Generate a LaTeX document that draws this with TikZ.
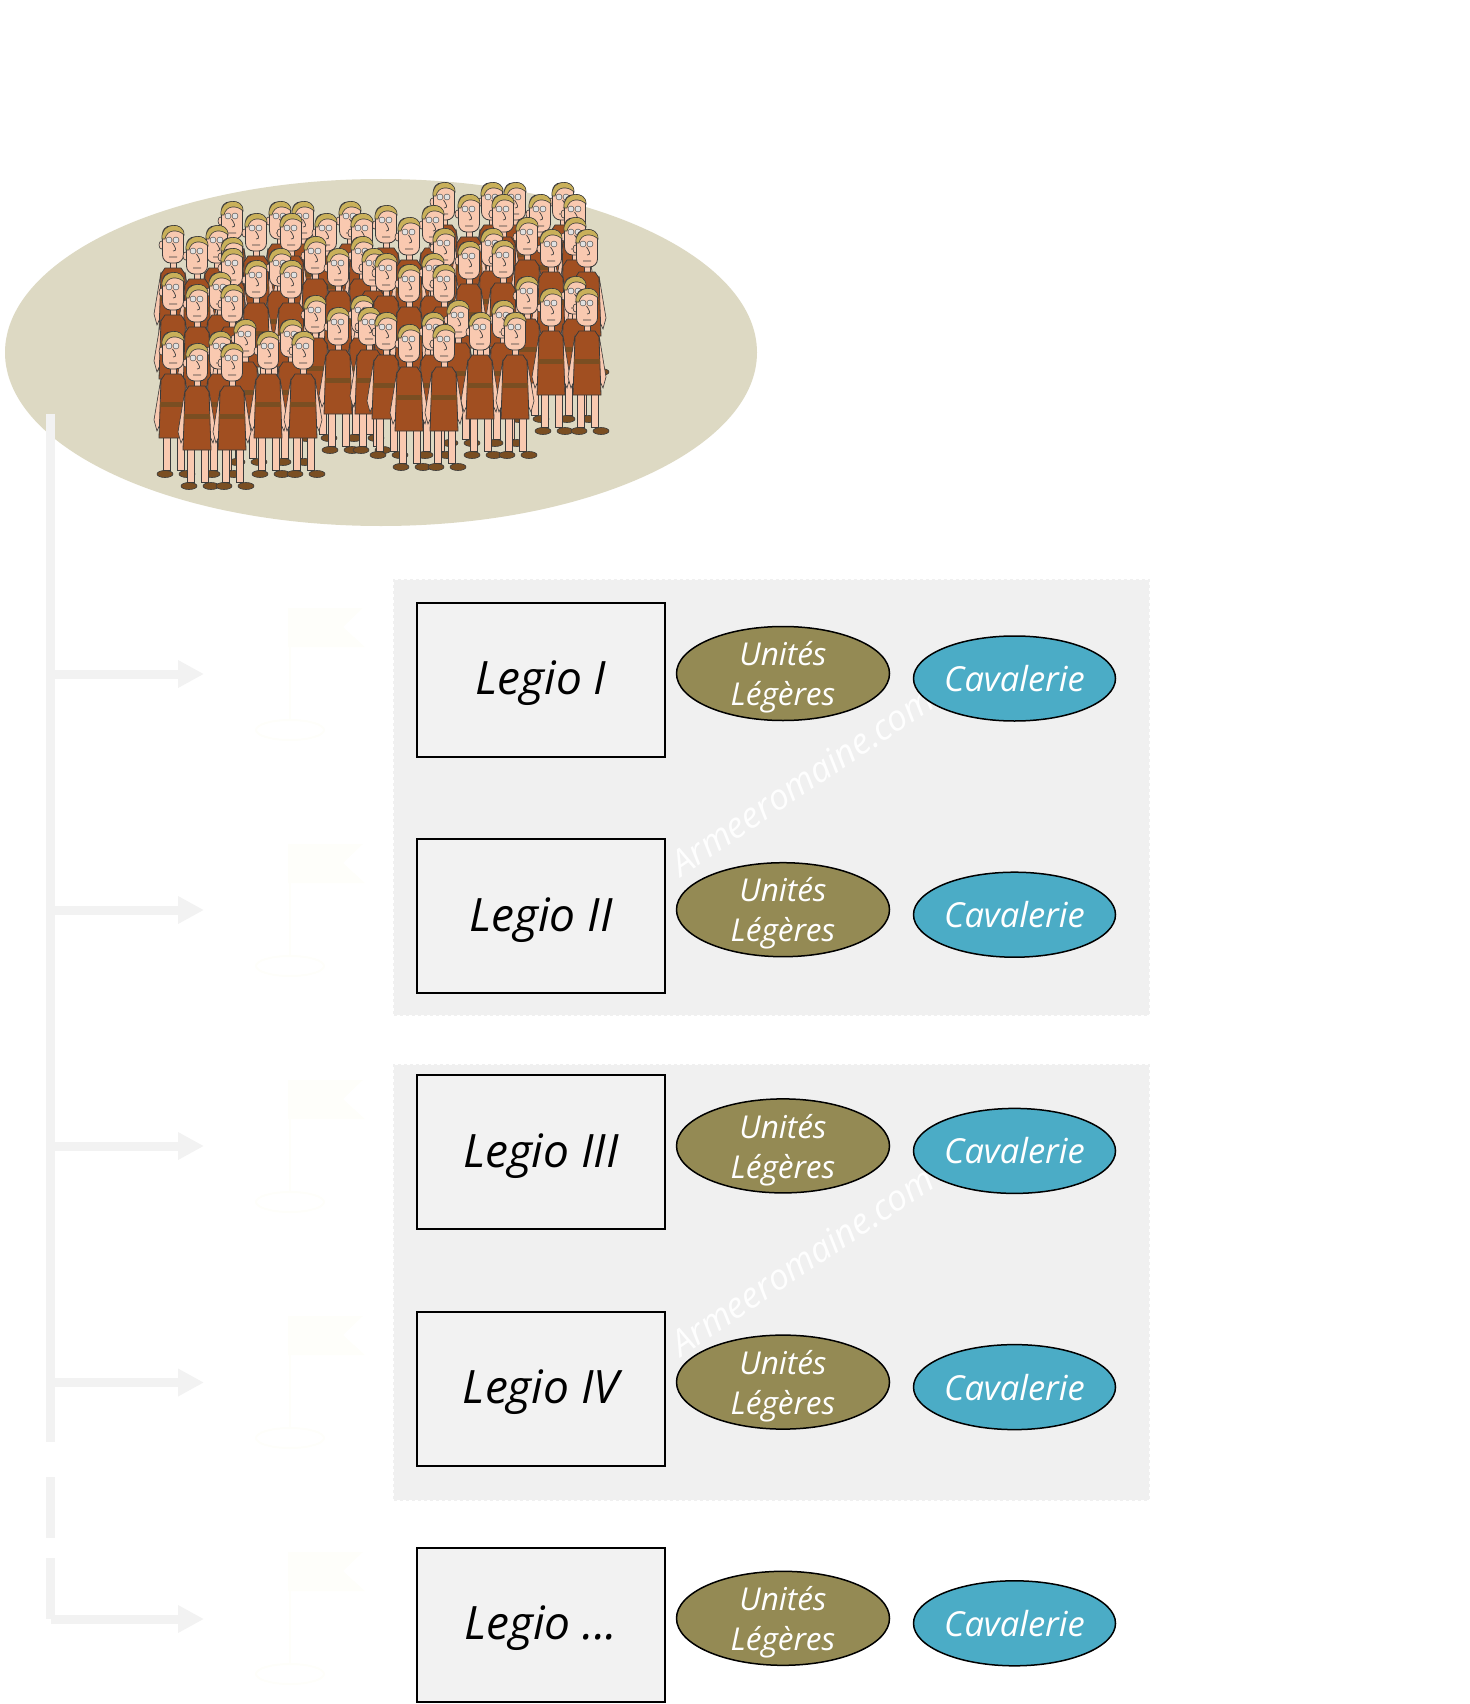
\documentclass[tikz,border=0pt]{standalone}
\usepackage{fontspec}
\setmainfont{Open Sans}
\usetikzlibrary{arrows.meta, shapes.geometric, positioning}
\definecolor{plaine}{HTML}{DDD9C3}
\definecolor{legere}{HTML}{948A54}
\definecolor{cava}{HTML}{4BACC6}
\definecolor{fond}{HTML}{F0F0F0}
\definecolor{boite}{HTML}{F2F2F2}
\definecolor{fanion}{HTML}{FEFEFA}
\definecolor{tunique}{HTML}{A14F21}
\definecolor{peau}{HTML}{F9C9B0}
\definecolor{cheveux}{HTML}{C9B05A}
\definecolor{cuir}{HTML}{7A4E22}
\definecolor{trait}{HTML}{3A3A3A}

\begin{document}
\begin{tikzpicture}[x=1pt, y=-1pt, node distance=236.2pt]
 % We define the styles for the blocks, the arrows and the small figures
 \tikzset{
legio/.style = {draw=black, rectangle, fill=boite, line width=2pt, inner sep=0pt, outer sep=0pt, minimum width=248pt, minimum height=154pt, text height=41pt, font=\fontsize{46}{50}\selectfont\itshape},
unites/.style = {draw=black, ellipse, fill=legere, text=white, line width=1.5pt, inner sep=-14pt, outer sep=0pt, align=center, minimum width=213pt, minimum height=94pt, text height=72pt, font=\fontsize{31.5}{40}\selectfont\itshape},
cavalerie/.style = {draw=black, ellipse, fill=cava, text=white, line width=1.5pt, inner sep=0pt, outer sep=0pt, minimum width=202pt, minimum height=85pt, font=\fontsize{34.5}{36}\selectfont\itshape},
panneau/.style = {draw=fond, dashed, fill=fond, line width=2pt, rectangle, inner sep=0pt, minimum width=755pt, minimum height=435pt},
filigrane/.style = {text=white!97!fond, rotate=33.8, font=\fontsize{35.5}{38}\selectfont\itshape},
tronc/.style = {draw=boite, line width=9pt},
fleche/.style = {draw=boite, line width=9pt, -{Triangle[length=26pt,width=26pt]}},
soldier/.pic = {
  \draw[trait, line width=.6pt, fill=peau] (-10,100) rectangle (-3,140) (4,100) rectangle (11,140);
  \draw[trait, line width=.6pt, fill=cuir] (-8,144) ellipse (8 and 3.5) (14,144) ellipse (8 and 3.5);
  \draw[trait, line width=.6pt, fill=peau] (-12,48) -- (-19,90) -- (-16,101) -- (-12,92) -- cycle (12,48) -- (19,90) -- (16,101) -- (12,92) -- cycle;
  \draw[trait, line width=.6pt, fill=peau] (-3,36) rectangle (3,47);
  \draw[trait, line width=.8pt, fill=tunique] (-8,44) -- (8,44) -- (12,50) -- (14,108) -- (-14,108) -- (-12,50) -- cycle;
  \fill[cuir] (-13,72) rectangle (13,76.5);
  \draw[trait, line width=.6pt, fill=peau] (-11.5,21) ellipse (2.5 and 4);
  \draw[trait, line width=.8pt, fill=peau, rounded corners=8pt] (-10.5,2) rectangle (10.5,39);
  \draw[trait, line width=.6pt, fill=cheveux] (-11,15) .. controls (-13,-2) and (12,-3) .. (11,11) .. controls (5,5) and (-6,5) .. (-8,15) -- cycle;
  \draw[trait, line width=.4pt, fill=white!85!trait] (-4,16) circle (3) (3,16) circle (3);
  \draw[trait, line width=.7pt] (-.5,19) .. controls (3,24) and (4,27) .. (0,27) (-4,33) -- (4,33);
},
drapeau/.pic = {
  \fill[fanion] (288,608) -- (363,608) -- (343,627) -- (365,647) -- (288,647) -- cycle;
  \draw[fanion, line width=2pt] (290,647) -- (290,720);
  \draw[fanion, line width=2pt] (290,730) ellipse (34 and 10);
},
}

 \useasboundingbox (0,0) rectangle (1469,1704);

 % Army on its ground
 \node [ellipse, fill=plaine, inner sep=0pt, minimum width=752pt, minimum height=347pt] (armee) at (381,352.5) {};
 \foreach \sx/\sy in {444/181,492/181,515/181,563/181,469/193,540/193,575/193,503/193,232/200,280/200,303/200,350/200,433/204,386/204,256/212,326/212,362/212,291/212,409/216,527/216,575/216,173/224,217/224,444/227,492/227,551/228,587/228,197/235,315/235,362/235,232/236,503/239,469/240,232/247,338/247,280/247,373/247,386/252,433/252,256/259,291/259,409/263,444/263,173/271,220/271,527/275,575/275,197/283,232/283,551/287,587/287,315/294,362/294,458/299,503/299,338/306,369/306,386/311,433/311,480/311,515/311,245/318,291/318,409/323,444/323,173/330,220/330,268/330,303/330,197/342,232/342}
  \pic at (\sx,\sy) {soldier};

 % Flags
 \pic at (0,0) {drapeau};
 \pic at (0,236) {drapeau};
 \pic at (0,472) {drapeau};
 \pic at (0,708) {drapeau};
 \pic at (0,944) {drapeau};

 % Grey panels behind the legions
 \node [panneau] (panela) at (771.5,797.5) {};
 \node [panneau] (panelb) at (771.5,1282.5) {};
 \node [filigrane] (markA) at (802,781) {Armeeromaine.com};
 \node [filigrane] (markB) at (802,1261) {Armeeromaine.com};

 % Legion blocks
 \node [legio] (legioa) at (541,680) {Legio I};
 \node [legio, below of=legioa] (legiob) {Legio II};
 \node [legio, below of=legiob] (legioc) {Legio III};
 \node [legio, below of=legioc] (legiod) {Legio IV};
 \node [legio, below of=legiod] (legioe) {Legio ...};

 % Light units and cavalry of each legion
 \node [unites, right of=legioa, node distance=242pt, yshift=6.5pt] (unitesa) {Unités\\Légères};
 \node [cavalerie, right of=legioa, node distance=473.5pt, yshift=1.5pt] (cavaa) {Cavalerie};
 \node [unites, right of=legiob, node distance=242pt, yshift=6.5pt] (unitesb) {Unités\\Légères};
 \node [cavalerie, right of=legiob, node distance=473.5pt, yshift=1.5pt] (cavab) {Cavalerie};
 \node [unites, right of=legioc, node distance=242pt, yshift=6.5pt] (unitesc) {Unités\\Légères};
 \node [cavalerie, right of=legioc, node distance=473.5pt, yshift=1.5pt] (cavac) {Cavalerie};
 \node [unites, right of=legiod, node distance=242pt, yshift=6.5pt] (unitesd) {Unités\\Légères};
 \node [cavalerie, right of=legiod, node distance=473.5pt, yshift=1.5pt] (cavad) {Cavalerie};
 \node [unites, right of=legioe, node distance=242pt, yshift=6.5pt] (unitese) {Unités\\Légères};
 \node [cavalerie, right of=legioe, node distance=473.5pt, yshift=1.5pt] (cavae) {Cavalerie};

 % Trunk and arrows
 \coordinate (trunktop) at (50.5,414);
 \coordinate (gapa) at (50.5,1442);
 \coordinate (gapb) at (50.5,1477);
 \coordinate (gapc) at (50.5,1538);
 \coordinate (gapd) at (50.5,1558);
 \coordinate (trunkend) at (50.5,1619);
 \coordinate (ta) at (50.5,674);
 \coordinate (tb) at (50.5,910);
 \coordinate (tc) at (50.5,1146);
 \coordinate (td) at (50.5,1382.5);
 \coordinate (te) at (50.5,1619);
 \coordinate (aa) at (204,674);
 \coordinate (ab) at (204,910);
 \coordinate (ac) at (204,1146);
 \coordinate (ad) at (204,1382.5);
 \coordinate (ae) at (204,1619);
 \draw [tronc] (trunktop) -- (gapa);
 \draw [tronc] (gapb) -- (gapc);
 \draw [tronc] (gapd) -- (trunkend);
 \draw [fleche] (ta) -- (aa);
 \draw [fleche] (tb) -- (ab);
 \draw [fleche] (tc) -- (ac);
 \draw [fleche] (td) -- (ad);
 \draw [fleche] (te) -- (ae);

\end{tikzpicture}
\end{document}
